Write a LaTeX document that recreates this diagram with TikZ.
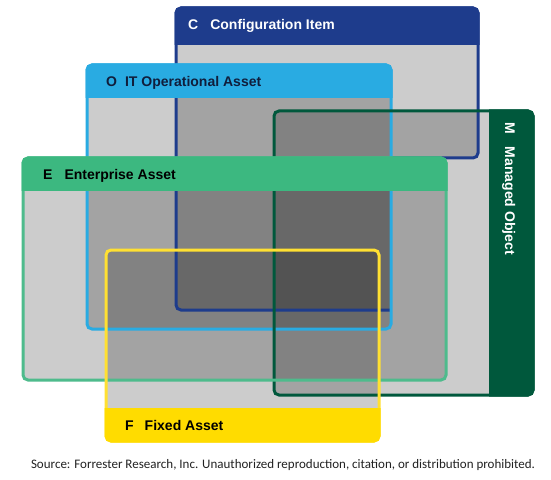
\documentclass[tikz,border=0pt]{standalone}
\usepackage{fontspec}
\setmainfont{Liberation Sans}
\newfontfamily\srcfont{Carlito}
\definecolor{cblue}{RGB}{30,60,140}
\definecolor{ocyan}{RGB}{41,171,226}
\definecolor{egreen}{RGB}{60,184,128}
\definecolor{eborder}{RGB}{78,187,140}
\definecolor{mgreen}{RGB}{0,88,60}
\definecolor{fyellow}{RGB}{255,220,0}
\definecolor{fborder}{RGB}{255,224,50}
\definecolor{otext}{RGB}{16,30,60}
\definecolor{srcgray}{RGB}{34,34,34}
\tikzset{
  boxfill/.style={fill=black, fill opacity=0.2},
  rc/.style={rounded corners=5bp},
  bw/.style={line width=3bp},
  lab/.style={font=\fontsize{14bp}{16bp}\selectfont\bfseries, inner sep=0pt, anchor=base west}
}
\begin{document}
\begin{tikzpicture}[x=1bp,y=-1bp]
\useasboundingbox (0,0) rectangle (551,480);
\fill[white] (0,0) rectangle (551,480);
% translucent gray fills
\path[boxfill, rc] (391,310) -- (176,310) -- (176,8) -- (478,8) -- (478,158) -- (391,158) -- (391,310);
\path[boxfill, rc] (87,65) rectangle (391,329);
\path[boxfill, rc] (274,111) rectangle (533,395);
\path[boxfill, rc] (23,158) rectangle (446,380);
\path[boxfill, rc] (106,250) rectangle (379,441);
% borders
\draw[cblue, bw, rc] (391,310) -- (176,310) -- (176,8) -- (478,8) -- (478,158) -- (391,158);
\draw[ocyan, bw, rc] (87,65) rectangle (391,329);
\draw[mgreen, bw, rc] (274,111) rectangle (533,395);
\draw[eborder, bw, rc] (23,158) rectangle (446,380);
\draw[fborder, bw, rc] (106,250) rectangle (379,441);
% headers
\filldraw[cblue, bw, rc] (176,45) -- (176,8) -- (478,8) -- (478,45);
\filldraw[ocyan, bw, rc] (87,98) -- (87,65) -- (391,65) -- (391,98);
\filldraw[egreen, bw, rc] (23,191) -- (23,158) -- (446,158) -- (446,191);
\filldraw[mgreen, bw, rc] (489,111) -- (533,111) -- (533,395) -- (489,395);
\filldraw[fyellow, bw, rc] (106,408) -- (106,441) -- (379,441) -- (379,408);
% labels
\node[lab, text=white] (lc) at (188,29.5) {C\hspace{12bp}Configuration Item};
\node[lab, text=otext] (lo) at (106,87) {O\hspace{8bp}IT Operational Asset};
\node[lab, text=black] (le) at (43,180) {E\hspace{12bp}Enterprise Asset};
\node[lab, text=white, rotate=-90] (lm) at (505,122) {M\hspace{13bp}Managed Object};
\node[lab, text=black] (lf) at (125,430) {F\hspace{11bp}Fixed Asset};
\node[font=\srcfont\fontsize{13bp}{15bp}\selectfont, text=srcgray, inner sep=0pt] (src) at (283,465) {Source: Forrester Research, Inc. Unauthorized reproduction, citation, or distribution prohibited.};
\end{tikzpicture}
\end{document}
